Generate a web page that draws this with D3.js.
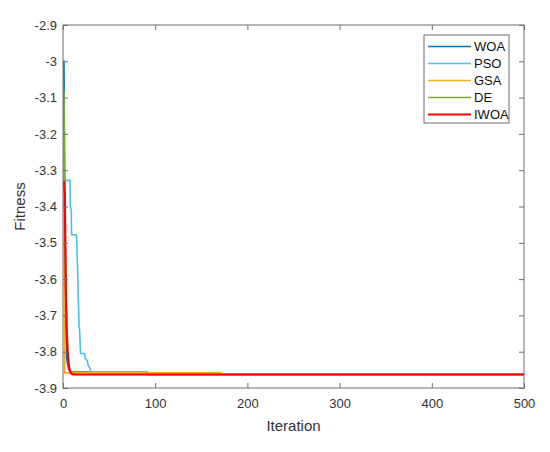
<!DOCTYPE html>
<html>
<head>
<meta charset="utf-8">
<script src="https://cdn.jsdelivr.net/npm/d3@7"></script>
<style>
  html, body { margin: 0; padding: 0; background: #fff; }
  svg { display: block; }
  text { font-family: "Liberation Sans", Arial, Helvetica, sans-serif; }
</style>
</head>
<body>
<svg id="chart" width="550" height="452"></svg>
<script>
// ---- data ----
const seriesNames = ["WOA", "PSO", "GSA", "DE", "IWOA"];
const seriesColors = ["#0072BD", "#4DBEEE", "#EDB120", "#77AC30", "#FF0000"];

const woaIter = [1, 2, 3, 4, 5, 6, 7, 8, 10, 91, 92, 500];
const woaFit  = [-2.998, -3.45, -3.72, -3.815, -3.835, -3.847, -3.853, -3.856, -3.8565, -3.8565, -3.8628, -3.8628];

const psoIter = [1, 7.6, 8, 9, 9.3, 14.5, 15, 17.5, 18, 19, 23.5, 24, 26.5, 27, 29.5, 30, 92, 93, 500];
const psoFit  = [-3.328, -3.328, -3.40, -3.414, -3.478, -3.478, -3.50, -3.735, -3.74, -3.805, -3.805, -3.818, -3.825, -3.835, -3.848, -3.8555, -3.8555, -3.8628, -3.8628];

const gsaIter = [1, 2, 172, 173, 500];
const gsaFit  = [-3.20, -3.8585, -3.8585, -3.8628, -3.8628];

const deIter = [1, 2, 3, 4, 5, 6, 7, 8, 10, 14, 500];
const deFit  = [-3.08, -3.40, -3.62, -3.73, -3.79, -3.83, -3.848, -3.855, -3.86, -3.8628, -3.8628];

const iwoaIter = [1, 2, 3, 4, 5, 6, 7, 8, 9, 10, 12, 500];
const iwoaFit  = [-3.33, -3.37, -3.62, -3.74, -3.80, -3.83, -3.848, -3.856, -3.86, -3.862, -3.8628, -3.8628];

const xTicks = [0, 100, 200, 300, 400, 500];
const yTicks = [-3.9, -3.8, -3.7, -3.6, -3.5, -3.4, -3.3, -3.2, -3.1, -3, -2.9];
const yTickLabels = ["-3.9", "-3.8", "-3.7", "-3.6", "-3.5", "-3.4", "-3.3", "-3.2", "-3.1", "-3", "-2.9"];

const xLabel = "Iteration";
const yLabel = "Fitness";

// ---- layout ----
const W = 550, H = 452;
const margin = { left: 63, top: 25, right: 26, bottom: 64 };
const iw = W - margin.left - margin.right;
const ih = H - margin.top - margin.bottom;

const svg = d3.select("#chart");
const g = svg.append("g").attr("transform", `translate(${margin.left},${margin.top})`);

const x = d3.scaleLinear().domain([0, 500]).range([0, iw]);
const y = d3.scaleLinear().domain([-3.9, -2.9]).range([ih, 0]);

const axisColor = "#6e6e6e";
const textColor = "#333333";

g.append("rect").attr("width", iw).attr("height", ih).attr("fill", "#fff");

svg.append("defs").append("clipPath").attr("id", "clip")
  .append("rect").attr("x", 0).attr("y", -2).attr("width", iw).attr("height", ih + 2);

// series
const series = [
  [woaIter, woaFit],
  [psoIter, psoFit],
  [gsaIter, gsaFit],
  [deIter, deFit],
  [iwoaIter, iwoaFit]
];
const widths = [1.7, 1.6, 1.7, 1.7, 2.2];
const line = d3.line().x(d => x(d[0])).y(d => y(d[1]));
const plot = g.append("g").attr("clip-path", "url(#clip)");
series.forEach((s, i) => {
  const pts = s[0].map((it, k) => [it, s[1][k]]);
  plot.append("path")
    .datum(pts)
    .attr("d", line)
    .attr("fill", "none")
    .attr("stroke", seriesColors[i])
    .attr("stroke-width", widths[i])
    .attr("stroke-linejoin", "round");
});

// axes
function styleAxis(sel) {
  sel.select(".domain").remove();
  sel.selectAll(".tick line").attr("stroke", axisColor).attr("stroke-width", 1);
  sel.selectAll(".tick text").attr("fill", textColor).attr("font-size", "13px");
}
const fmtY = d => yTickLabels[yTicks.findIndex(v => Math.abs(v - d) < 1e-9)];

g.append("g").attr("transform", `translate(0,${ih})`)
  .call(d3.axisBottom(x).tickValues(xTicks).tickSizeInner(-5).tickSizeOuter(0).tickPadding(11).tickFormat(d3.format("d")))
  .call(styleAxis);
g.append("g")
  .call(d3.axisTop(x).tickValues(xTicks).tickSizeInner(-5).tickSizeOuter(0).tickFormat(""))
  .call(styleAxis);
g.append("g")
  .call(d3.axisLeft(y).tickValues(yTicks).tickSizeInner(-5).tickSizeOuter(0).tickPadding(6).tickFormat(fmtY))
  .call(styleAxis);
g.append("g").attr("transform", `translate(${iw},0)`)
  .call(d3.axisRight(y).tickValues(yTicks).tickSizeInner(-5).tickSizeOuter(0).tickFormat(""))
  .call(styleAxis);

// box
g.append("rect").attr("x", 0).attr("y", 0).attr("width", iw).attr("height", ih)
  .attr("fill", "none").attr("stroke", axisColor).attr("stroke-width", 1);

// axis labels
svg.append("text")
  .attr("x", margin.left + iw / 2).attr("y", 431)
  .attr("text-anchor", "middle").attr("font-size", "15px").attr("fill", textColor)
  .text(xLabel);
svg.append("text")
  .attr("transform", `translate(25,${margin.top + ih / 2}) rotate(-90)`)
  .attr("text-anchor", "middle").attr("font-size", "15px").attr("fill", textColor)
  .text(yLabel);

// legend
const lg = svg.append("g").attr("transform", "translate(424,35)");
lg.append("rect").attr("width", 85).attr("height", 88)
  .attr("fill", "#fff").attr("stroke", axisColor).attr("stroke-width", 1);
seriesNames.forEach((name, i) => {
  const cy = 11.5 + i * 17;
  lg.append("line").attr("x1", 4).attr("x2", 47).attr("y1", cy).attr("y2", cy)
    .attr("stroke", seriesColors[i]).attr("stroke-width", widths[i]);
  lg.append("text").attr("x", 50).attr("y", cy).attr("dy", "0.36em")
    .attr("font-size", "13px").attr("fill", "#111").text(name);
});
</script>
</body>
</html>
